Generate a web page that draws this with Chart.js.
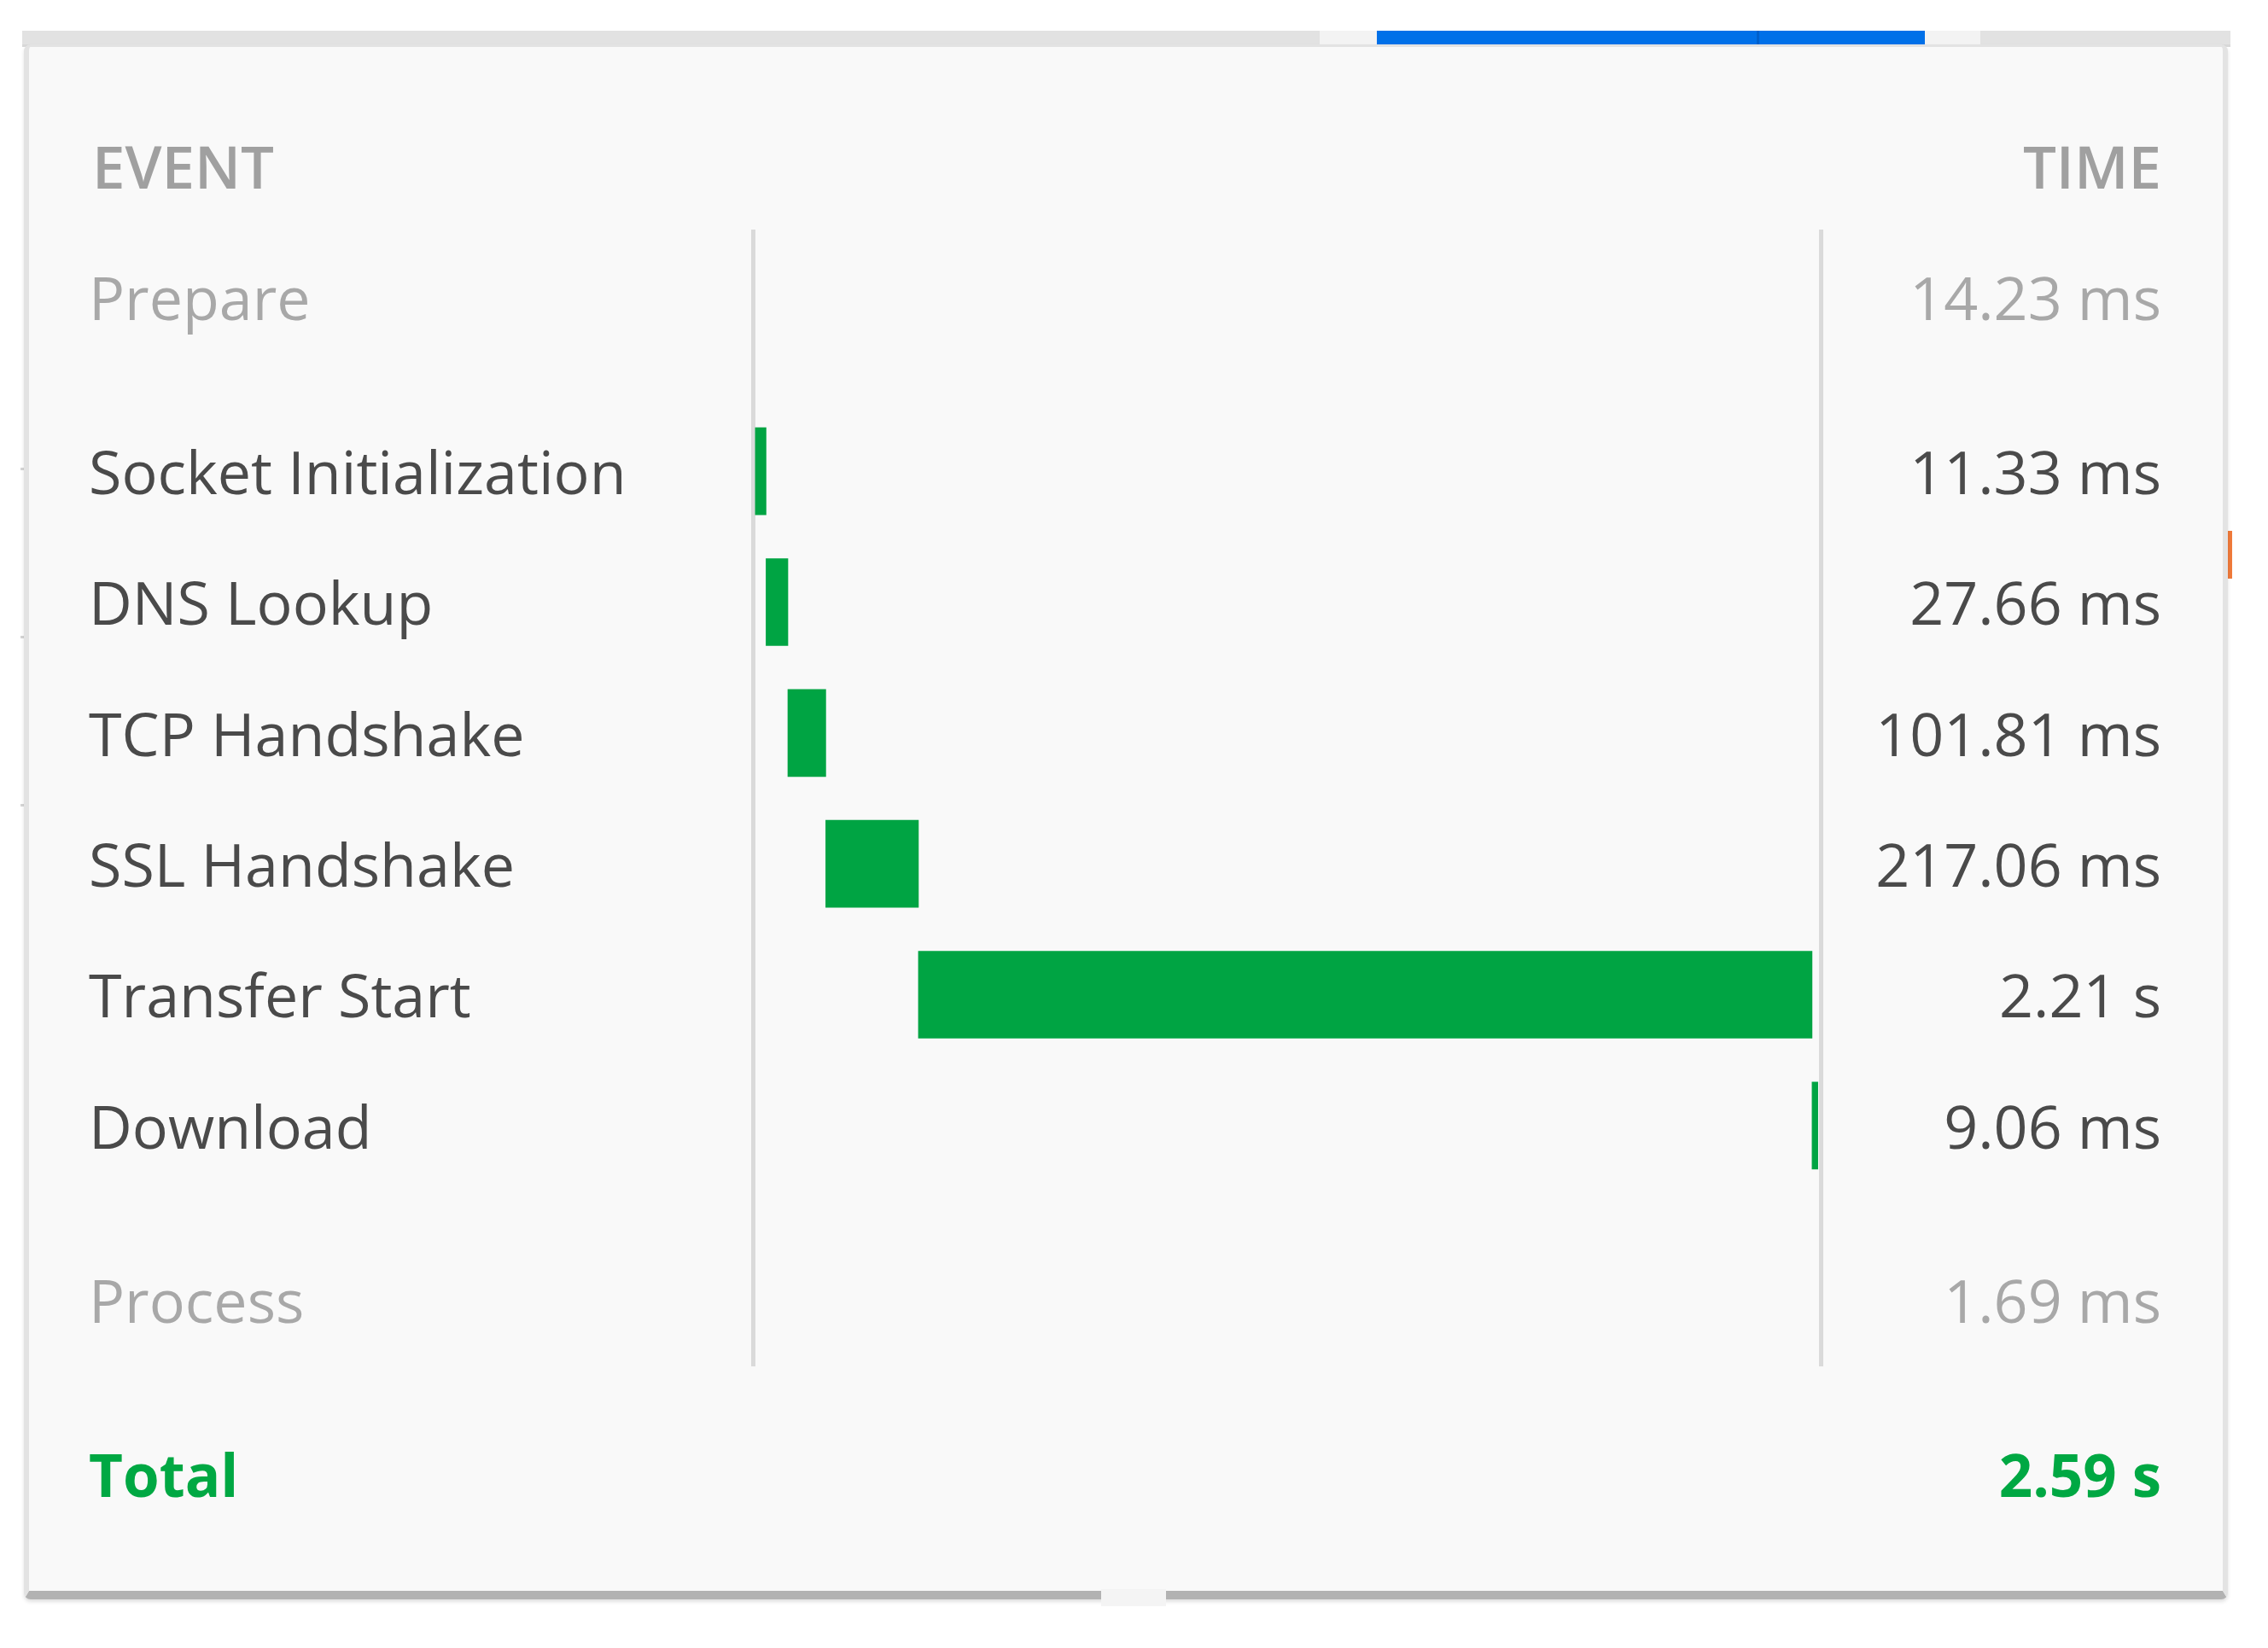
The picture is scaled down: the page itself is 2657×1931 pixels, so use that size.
<!DOCTYPE html>
<html>
<head>
<meta charset="utf-8">
<script src="https://cdn.jsdelivr.net/npm/chart.js@4.4.1/dist/chart.umd.min.js"></script>
<style>
  html, body { margin: 0; padding: 0; background: #ffffff; }
  #page { position: relative; width: 2657px; height: 1931px; overflow: hidden; }
  .strip { position: absolute; top: 36px; height: 19px; }
  #card {
    position: absolute; left: 28px; top: 52px; width: 2570px; height: 1809px;
    background: #f9f9f9;
    border: 6px solid #e3e3e3; border-top-width: 3px; border-bottom: 10px solid #b2b2b2;
    border-radius: 8px;
    box-shadow: 0 3px 4px rgba(0, 0, 0, 0.12);
  }
  #wrap { position: absolute; left: 0; top: 0; width: 2657px; height: 1931px; }
</style>
</head>
<body>
<div id="page">
  <!-- bits of the page behind the popup -->
  <div class="strip" style="left:26px;width:1520px;background:#e2e2e2;border-bottom:3px solid #d8d8d8;height:16px;"></div>
  <div class="strip" style="left:1546px;width:67px;background:#f3f3f3;"></div>
  <div class="strip" style="left:1613px;width:642px;background:#0070e8;"></div>
  <div class="strip" style="left:2058px;width:3px;background:#0060cc;"></div>
  <div class="strip" style="left:2255px;width:65px;background:#f3f3f3;"></div>
  <div class="strip" style="left:2320px;width:293px;background:#e2e2e2;border-bottom:3px solid #d8d8d8;height:16px;"></div>
  <div style="position:absolute;left:24px;top:548px;width:12px;height:3px;background:#d6d6d6;"></div>
  <div style="position:absolute;left:24px;top:745px;width:12px;height:3px;background:#d6d6d6;"></div>
  <div style="position:absolute;left:24px;top:942px;width:12px;height:3px;background:#d6d6d6;"></div>
  <div style="position:absolute;left:2608px;top:622px;width:7px;height:56px;background:#f07a3a;"></div>
  <div id="card"></div>
  <div style="position:absolute;left:1290px;top:1862px;width:76px;height:20px;background:#f4f4f4;"></div>
  <div id="wrap"><canvas id="timing"></canvas></div>
</div>

<script>
// rows of the timing table
const eventLabels = ['Prepare', 'Socket Initialization', 'DNS Lookup', 'TCP Handshake',
  'SSL Handshake', 'Transfer Start', 'Download', 'Process'];
const timeLabels = ['14.23 ms', '11.33 ms', '27.66 ms', '101.81 ms',
  '217.06 ms', '2.21 s', '9.06 ms', '1.69 ms'];
const headerLabels = ['EVENT', 'TIME'];
const totalLabels = ['Total', '2.59 s'];

// bar extents on the timeline (ms), Socket Initialization .. Download
const barStart = [6, 32, 85, 177, 402, 2572];
const barEnd = [32, 85, 177, 402, 2572, 2586];
const timelineMax = 2593;

// vertical slot of each row (header sits at 0, total at 30)
const rowSlot = [3, 7, 10, 13, 16, 19, 22, 26];
const headerSlot = 0;
const totalSlot = 30;

const darkText = '#4a4a4a';
const greyText = '#a8a8a8';
const green = '#00a443';
const textShift = 7; // text sits a touch below the bar centres

Chart.defaults.font.family = "'Open Sans', 'Noto Sans', sans-serif";

const barData = barStart.map((s, i) => ({ x: [s, barEnd[i]], y: rowSlot[i + 1] }));

function rowColor(ctx) {
  const i = ctx.index;
  return (i === 0 || i === eventLabels.length - 1) ? greyText : darkText;
}

function rowAxis(position, labels, width) {
  return {
    type: 'linear',
    position: position,
    reverse: true,
    offset: false,
    min: 1.5,
    max: 27.5,
    grid: { display: false, drawTicks: false, offset: false },
    border: { display: true, color: '#dadada', width: 5 },
    afterBuildTicks: (scale) => {
      scale.ticks = rowSlot.map(v => ({ value: v }));
    },
    afterFit: (scale) => {
      scale.width = width;
    },
    ticks: {
      autoSkip: false,
      crossAlign: 'far',
      padding: 0,
      labelOffset: textShift,
      font: { size: 70 },
      color: rowColor,
      callback: (value) => labels[rowSlot.indexOf(value)]
    }
  };
}

// header and total lines drawn at their slots
const tableText = {
  id: 'tableText',
  afterDraw(chart) {
    const ctx = chart.ctx;
    const yl = chart.scales.y;
    const yr = chart.scales.yr;
    ctx.save();
    ctx.textBaseline = 'middle';

    ctx.font = "600 69px 'Open Sans', sans-serif";
    ctx.fillStyle = '#a0a0a0';
    let y = yl.getPixelForValue(headerSlot) + textShift;
    ctx.textAlign = 'left';
    ctx.fillText(headerLabels[0], yl.left + 4, y);
    ctx.textAlign = 'right';
    ctx.fillText(headerLabels[1], yr.right, y);

    ctx.font = "bold 69px 'Open Sans', sans-serif";
    ctx.fillStyle = '#00a843';
    y = yl.getPixelForValue(totalSlot) + textShift;
    ctx.textAlign = 'left';
    ctx.fillText(totalLabels[0], yl.left, y);
    ctx.textAlign = 'right';
    ctx.fillText(totalLabels[1], yr.right, y);
    ctx.restore();
  }
};

new Chart(document.getElementById('timing'), {
  type: 'bar',
  data: {
    datasets: [{
      label: 'Timing',
      data: barData,
      backgroundColor: green,
      borderWidth: 0,
      barThickness: 102,
      grouped: false,
      yAxisID: 'y'
    }]
  },
  options: {
    indexAxis: 'y',
    responsive: true,
    maintainAspectRatio: false,
    animation: false,
    layout: { padding: { left: 104, right: 125, top: 271, bottom: 331 } },
    plugins: {
      legend: { display: false },
      tooltip: { enabled: false }
    },
    scales: {
      x: { type: 'linear', min: 0, max: timelineMax, display: false },
      y: rowAxis('left', eventLabels, 778),
      yr: rowAxis('right', timeLabels, 399)
    }
  },
  plugins: [tableText]
});
</script>
</body>
</html>
